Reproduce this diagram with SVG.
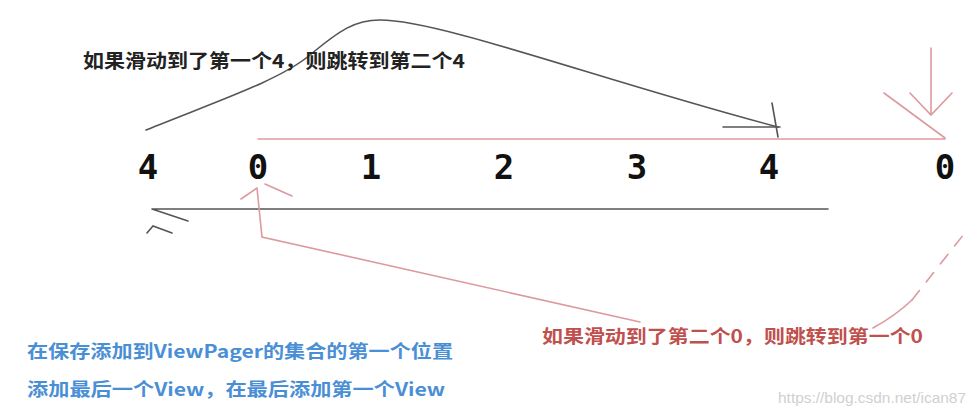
<svg xmlns="http://www.w3.org/2000/svg" width="979" height="414" viewBox="0 0 979 414">
<style>
.g{fill:none;stroke:#555;stroke-width:1.6;stroke-linecap:round}
.r{fill:none;stroke:#dd9a9e;stroke-width:1.6;stroke-linecap:round}
.d{font-family:"DejaVu Sans Mono","Liberation Mono",monospace;font-weight:bold;font-size:34px;fill:#111;text-anchor:middle}
.cj{font-family:"Noto Sans CJK SC",sans-serif;font-weight:bold}
</style>
<rect width="979" height="414" fill="#fff"/>
<g id="connectors">
<path class="g" d="M146,130 C220,100 280,80 310,55 C340,30 355,20 380,20 C440,20 600,80 778,127"/>
<path class="g" d="M723,127 L780,127 M772,103 L778,137"/>
<path class="g" d="M152,209 L828,209 M152,209 L188,221 M147,233 L153,226 L172,233"/>
<path class="r" d="M258,139 L945,139 M884,93 L945,138 M931,48 L931,115 M910,93 L931,115 L952,93"/>
<path class="r" d="M257,188 L262,237 L640,322 M241,199 L257,188 M265,184 L292,196"/>
<path class="r" d="M873,328 Q895,316 912,300"/>
<path class="r" d="M912,300 L964,234" stroke-dasharray="12 11"/>
</g>
<g id="digits">
<text class="d" x="148" y="179">4</text>
<text class="d" x="258" y="179">0</text>
<text class="d" x="371" y="179">1</text>
<text class="d" x="504" y="179">2</text>
<text class="d" x="637" y="179">3</text>
<text class="d" x="769" y="179">4</text>
<text class="d" x="945" y="179">0</text>
</g>
<g id="label-top">
<text class="cj" x="83" y="68" font-size="19" fill="#222" textLength="382" lengthAdjust="spacingAndGlyphs">如果滑动到了第一个4，则跳转到第二个4</text>
</g>
<g id="label-red">
<text class="cj" x="542" y="343" font-size="18" fill="#c0504d" textLength="381" lengthAdjust="spacingAndGlyphs">如果滑动到了第二个0，则跳转到第一个0</text>
</g>
<g id="label-blue">
<text class="cj" x="27" y="358" font-size="18" fill="#4a8fd6" textLength="426" lengthAdjust="spacingAndGlyphs">在保存添加到ViewPager的集合的第一个位置</text>
<text class="cj" x="27" y="396" font-size="18" fill="#4a8fd6" textLength="418" lengthAdjust="spacingAndGlyphs">添加最后一个View，在最后添加第一个View</text>
</g>
<g id="watermark">
<text x="778" y="403" font-family="Liberation Sans,Arial,sans-serif" font-size="15" fill="#d0d0d0" textLength="188" lengthAdjust="spacingAndGlyphs">https://blog.csdn.net/ican87</text>
</g>
</svg>
